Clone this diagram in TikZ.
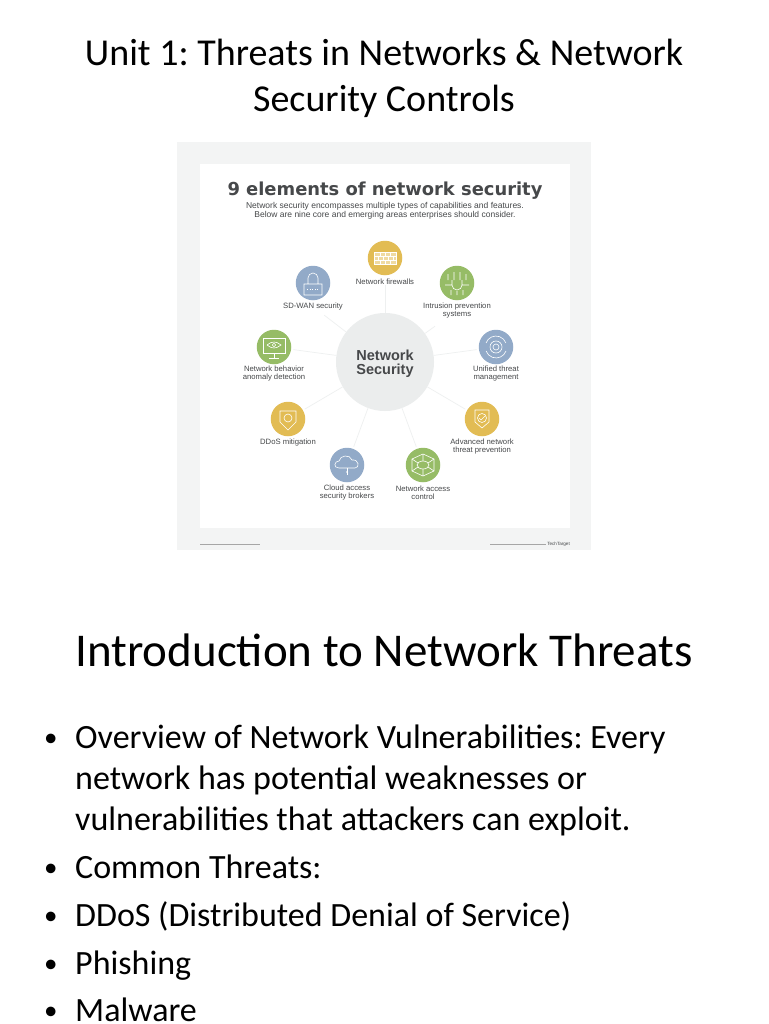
\documentclass[tikz,border=0pt]{standalone}
\usepackage{fontspec}
\setmainfont{Carlito}
\newfontfamily\infofont{Liberation Sans}
\newfontfamily\infohead{DejaVu Sans}
\usetikzlibrary{positioning}
\definecolor{panelgray}{RGB}{243,244,244}
\definecolor{hubgray}{RGB}{235,237,237}
\definecolor{spokegray}{RGB}{238,240,240}
\definecolor{infotext}{RGB}{70,72,74}
\definecolor{iconyellow}{RGB}{226,188,84}
\definecolor{icongreen}{RGB}{150,188,102}
\definecolor{iconblue}{RGB}{146,170,200}
\frenchspacing
\tikzset{
	headline/.style={font=\fontsize{38}{46}\selectfont, align=center, text=black},
	bulletline/.style={font=\fontsize{34}{41}\selectfont, anchor=base west, inner sep=0pt, text=black},
	bulletdot/.style={font=\fontsize{27}{30}\selectfont, anchor=base west, inner sep=0pt, text=black},
	elementdisk/.style={circle, minimum size=34.5pt, inner sep=0pt},
	elementlabel/.style={font=\infofont\fontsize{7.7}{7.6}\selectfont, align=center, inner sep=0pt, text=infotext},
	spoke/.style={draw=spokegray, line width=0.7pt},
	glyph/.style={draw=white, line width=0.6pt},
	smudge/.style={draw=black!35, line width=1pt}
}
\begin{document}
\begin{tikzpicture}[x=1pt,y=-1pt]
	\useasboundingbox (0,0) rectangle (768,1024);
	\fill[white] (0,0) rectangle (768,1024);
	% slide titles
	\node[headline] (slidetitle) at (384,78) {Unit 1: Threats in Networks \& Network\\Security Controls};
	\node[headline, font=\fontsize{47}{50}\selectfont] (introtitle) at (384,650) {Introduction to Network Threats};
	% infographic panel
	\fill[panelgray] (177,142) rectangle (591,550);
	\fill[white] (200,164) rectangle (570,528);
	\node[font=\infohead\bfseries\fontsize{17.9}{20}\selectfont, text=infotext, inner sep=0pt] (infotitle) at (385,191) {9 elements of network security};
	\node[font=\infofont\fontsize{8.5}{8.7}\selectfont, text=infotext, align=center, inner sep=0pt] (infosub) at (385,210.5) {Network security encompasses multiple types of capabilities and features.\\Below are nine core and emerging areas enterprises should consider.};
	\node[circle, fill=hubgray, minimum size=98pt, inner sep=0pt] (hub) at (385,362) {};
	\node[font=\infofont\bfseries\fontsize{14.5}{14}\selectfont, text=infotext, align=center, inner sep=0pt] (hubtext) at (385,363.5) {Network\\Security};
	% the nine elements
	\node[elementdisk, fill=iconyellow] (firewalls) at (385,258) {};
	\node[elementdisk, fill=iconblue] (sdwan) at (313,283) {};
	\node[elementdisk, fill=icongreen] (ips) at (457,283) {};
	\node[elementdisk, fill=icongreen] (behavior) at (274,347) {};
	\node[elementdisk, fill=iconblue] (utm) at (496,347) {};
	\node[elementdisk, fill=iconyellow] (ddos) at (288,419) {};
	\node[elementdisk, fill=iconyellow] (atp) at (482,419) {};
	\node[elementdisk, fill=iconblue] (casb) at (347,465) {};
	\node[elementdisk, fill=icongreen] (nac) at (423,465) {};
	\node[elementlabel] (firewallslabel) at (385,281.5) {Network firewalls};
	\node[elementlabel] (sdwanlabel) at (313,306.5) {SD-WAN security};
	\node[elementlabel] (ipslabel) at (457,310.5) {Intrusion prevention\\systems};
	\node[elementlabel] (behaviorlabel) at (274,373.5) {Network behavior\\anomaly detection};
	\node[elementlabel] (utmlabel) at (496,373.5) {Unified threat\\management};
	\node[elementlabel] (ddoslabel) at (288,442.5) {DDoS mitigation};
	\node[elementlabel] (atplabel) at (482,446.5) {Advanced network\\threat prevention};
	\node[elementlabel] (casblabel) at (347,492.5) {Cloud access\\security brokers};
	\node[elementlabel] (naclabel) at (423,492.5) {Network access\\control};
	% spokes
	\draw[spoke] (hub) -- (firewallslabel);
	\draw[spoke, shorten >=8pt] (hub) -- (sdwanlabel);
	\draw[spoke, shorten >=14pt] (hub) -- (ipslabel);
	\draw[spoke, shorten >=2pt] (hub) -- (behavior);
	\draw[spoke, shorten >=2pt] (hub) -- (utm);
	\draw[spoke, shorten >=2pt] (hub) -- (ddos);
	\draw[spoke, shorten >=2pt] (hub) -- (atp);
	\draw[spoke, shorten >=2pt] (hub) -- (casb);
	\draw[spoke, shorten >=2pt] (hub) -- (nac);
	% icons
	\begin{scope}[shift={(firewalls)}]
		\fill[white, opacity=0.45] (-11,-6) rectangle (11,6);
		\draw[glyph] (-11,-6) rectangle (11,6) (-11,-2) -- (11,-2) (-11,2) -- (11,2) (-5,-6) -- (-5,-2) (0,-6) -- (0,-2) (5,-6) -- (5,-2) (-2,-2) -- (-2,2) (3,-2) -- (3,2) (-7,-2) -- (-7,2) (8,-2) -- (8,2) (-5,2) -- (-5,6) (0,2) -- (0,6) (5,2) -- (5,6);
	\end{scope}
	\begin{scope}[shift={(sdwan)}]
		\draw[glyph] (-9,1) rectangle (9,12) (-5,1) -- (-5,-5) arc[start angle=180,end angle=360,radius=5] -- (5,1);
		\draw[glyph, dotted, line width=1pt] (-6,6) -- (6,6);
	\end{scope}
	\begin{scope}[shift={(ips)}]
		\draw[glyph] (-5,-3) -- (-5,2) arc[start angle=180,end angle=0,radius=5] -- (5,-3) (-9,-9) -- (-9,-3) (-3,-11) -- (-3,-3) (3,-11) -- (3,-3) (9,-9) -- (9,-3) (-12,2) -- (-5,2) (5,2) -- (12,2) (-6,12) -- (-6,7) (0,12) -- (0,8) (6,12) -- (6,7);
	\end{scope}
	\begin{scope}[shift={(behavior)}]
		\draw[glyph] (-11,-9) rectangle (11,6) (-5,11) -- (5,11) (0,6) -- (0,11);
		\draw[glyph] (-7,-2) .. controls (-2,-6) and (2,-6) .. (7,-2) .. controls (2,2) and (-2,2) .. (-7,-2);
		\draw[glyph] (0,-2) circle[radius=1.8];
	\end{scope}
	\begin{scope}[shift={(utm)}]
		\draw[glyph] (0,0) circle[radius=3] (0,0) circle[radius=6];
		\draw[glyph] (-10,-4) arc[start angle=200,end angle=340,radius=10.6];
		\draw[glyph] (10,4) arc[start angle=20,end angle=160,radius=10.6];
	\end{scope}
	\begin{scope}[shift={(ddos)}]
		\draw[glyph] (-8,-8) -- (8,-8) -- (8,3) -- (0,11) -- (-8,3) -- cycle;
		\draw[glyph] (0,-1) circle[radius=4];
	\end{scope}
	\begin{scope}[shift={(atp)}]
		\draw[glyph] (-7,-9) -- (7,-9) -- (7,3) -- (0,9) -- (-7,3) -- cycle;
		\draw[glyph] (-3,-1) -- (-1,1) -- (3,-3);
		\draw[glyph] (0,-1) circle[radius=4.5];
	\end{scope}
	\begin{scope}[shift={(casb)}]
		\draw[glyph] (-8,3) .. controls (-14,3) and (-13,-4) .. (-8,-4) .. controls (-7,-10) and (3,-11) .. (5,-5) .. controls (12,-6) and (13,3) .. (8,3) -- cycle;
		\draw[glyph] (0,3) -- (0,10);
		\fill[white] (0,7) circle[radius=1];
	\end{scope}
	\begin{scope}[shift={(nac)}]
		\draw[glyph] (0,0) ellipse[x radius=6, y radius=4];
		\draw[glyph] (0,-11) -- (11,-6) -- (11,6) -- (0,11) -- (-11,6) -- (-11,-6) -- cycle;
		\draw[glyph] (0,-11) -- (0,-4) (0,4) -- (0,11) (-11,-6) -- (-5,-2) (11,-6) -- (5,-2) (-11,6) -- (-5,2) (11,6) -- (5,2);
	\end{scope}
	% panel footer
	\coordinate (creditstart) at (200,544);
	\coordinate (creditend) at (260,544);
	\coordinate (promostart) at (490,544);
	\coordinate (promoend) at (546,544);
	\draw[smudge] (creditstart) -- (creditend);
	\draw[smudge] (promostart) -- (promoend);
	\node[font=\infofont\fontsize{4.6}{5}\selectfont, text=infotext, anchor=east, inner sep=0pt] (brand) at (570,544) {TechTarget};
	% bullets
	\node[bulletdot] (dota) at (44,746) {•};
	\node[bulletline] (linea) at (75,748) {Overview of Network Vulnerabilities: Every};
	\node[bulletline] (lineb) at (75,789) {network has potential weaknesses or};
	\node[bulletline] (linec) at (75,830) {vulnerabilities that attackers can exploit.};
	\node[bulletdot] (dotb) at (44,876) {•};
	\node[bulletline] (lined) at (75,878) {Common Threats:};
	\node[bulletdot] (dotc) at (44,924) {•};
	\node[bulletline] (linee) at (75,926) {DDoS (Distributed Denial of Service)};
	\node[bulletdot] (dotd) at (44,972) {•};
	\node[bulletline] (linef) at (75,974) {Phishing};
	\node[bulletdot] (dote) at (44,1019) {•};
	\node[bulletline] (lineg) at (75,1021) {Malware};
\end{tikzpicture}
\end{document}
